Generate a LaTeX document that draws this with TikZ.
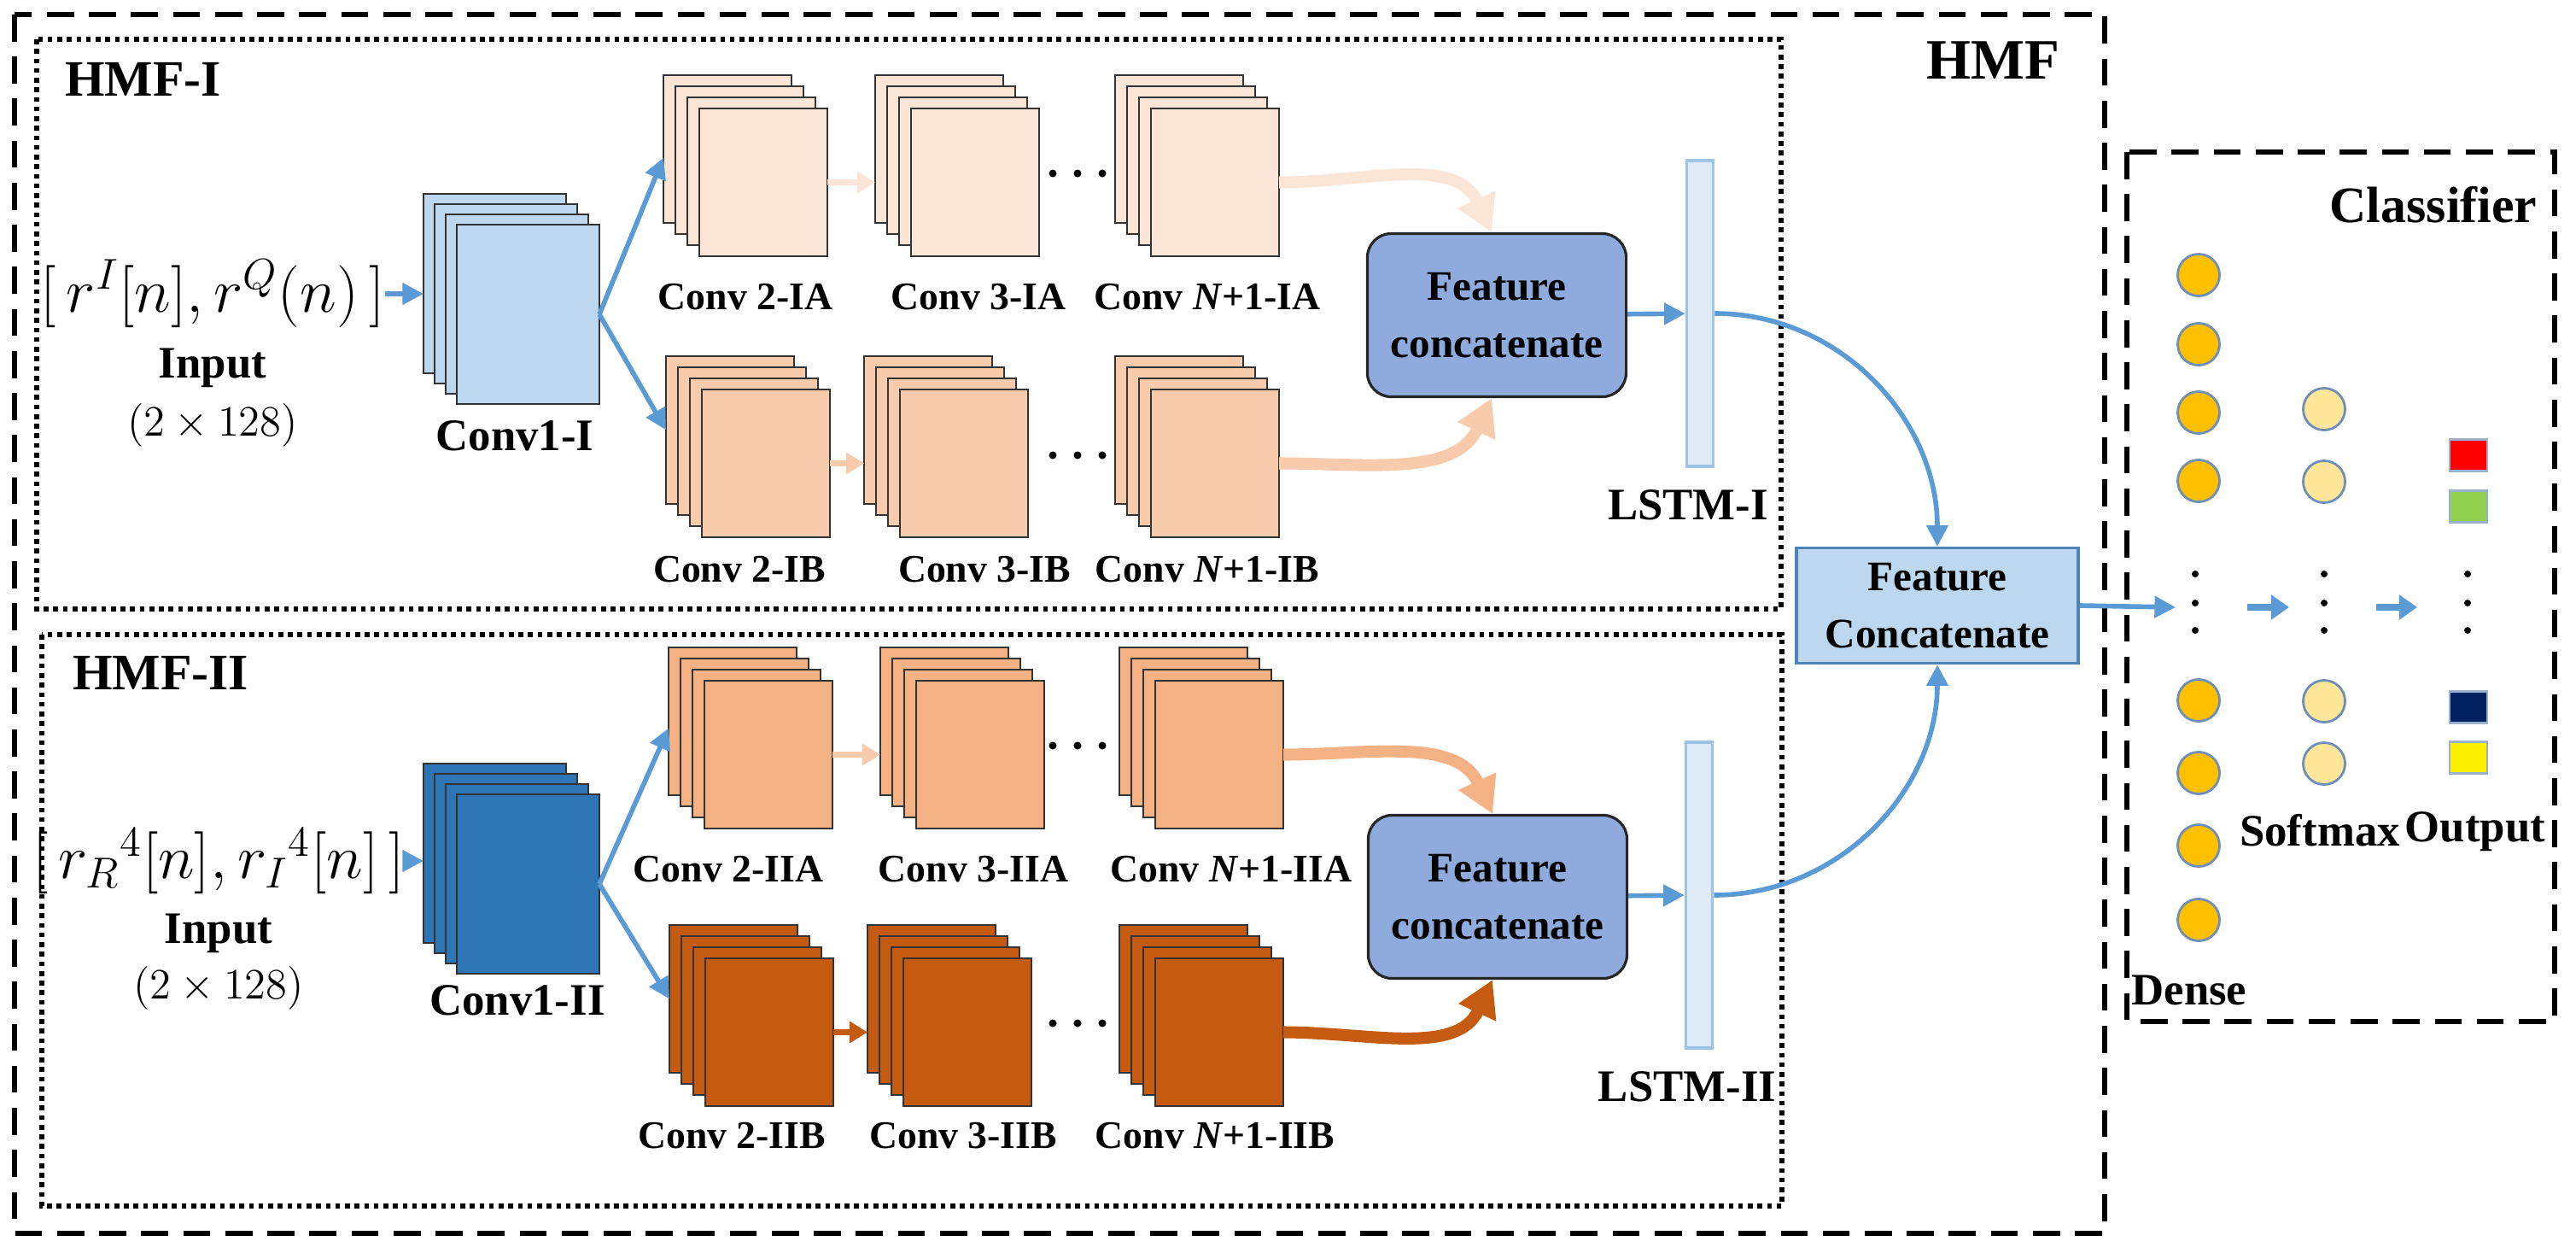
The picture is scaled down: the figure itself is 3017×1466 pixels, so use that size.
\documentclass[tikz,border=0pt]{standalone}
\usepackage{fontspec}
\setmainfont{Liberation Serif}
\usetikzlibrary{arrows.meta,calc}
\definecolor{blueA}{HTML}{5B9BD5}
\definecolor{c1I}{HTML}{BDD7EE}
\definecolor{c1II}{HTML}{2E75B6}
\definecolor{cIA}{HTML}{FBE5D6}
\definecolor{cIB}{HTML}{F8CBAD}
\definecolor{cIIA}{HTML}{F4B183}
\definecolor{cIIB}{HTML}{C55A11}
\definecolor{fcfill}{HTML}{8FAADC}
\definecolor{lstmfill}{HTML}{DEEBF7}
\definecolor{lstmdraw}{HTML}{9DC3E6}
\definecolor{densef}{HTML}{FFC000}
\definecolor{softf}{HTML}{FFE699}
\definecolor{ringc}{HTML}{6F8FB8}
\definecolor{outG}{HTML}{92D050}
\definecolor{outN}{HTML}{002060}
\begin{document}
\begin{tikzpicture}[x=0.01cm,y=-0.01cm,
  sheet/.style={draw=black!80,line width=0.8pt,inner sep=0,outer sep=0,anchor=north west},
  lbl/.style={font=\bfseries\fontsize{13}{15}\selectfont,inner sep=1pt},
  big/.style={font=\bfseries\fontsize{15}{17}\selectfont,inner sep=1pt},
  barrow/.style={draw=blueA,line width=1.6pt,-{Triangle[length=7pt,width=7pt]}},
  thick arr/.style={line width=4pt,-{Triangle[length=12pt,width=13pt]}},
  small arr/.style={line width=2pt,-{Triangle[length=6pt,width=7pt]}},
  fcbox/.style={draw=black!85,fill=fcfill,rounded corners=8pt,line width=0.9pt,minimum width=3.03cm,minimum height=1.91cm,align=center,font=\bfseries\fontsize{14}{19}\selectfont},
  lstm/.style={draw=lstmdraw,fill=lstmfill,line width=1pt,minimum width=0.31cm,minimum height=3.58cm,inner sep=0},
  dense/.style={circle,draw=ringc,fill=densef,minimum size=0.49cm,inner sep=0,line width=0.8pt},
  soft/.style={circle,draw=ringc,fill=softf,minimum size=0.49cm,inner sep=0,line width=0.8pt},
  outsq/.style={draw=ringc!70,minimum width=0.44cm,minimum height=0.37cm,inner sep=0,line width=0.8pt},
  dotp/.style={circle,fill=black,minimum size=0.08cm,inner sep=0}
]
\useasboundingbox (0,0) rectangle (3017,1466);
% stack macro: name, x, y, w, h, dx, dy, colour
\newcommand\fmstack[8]{%
  \foreach \k in {0,1,2,3}{%
    \node[sheet,fill=#8,minimum width=#4*0.01cm,minimum height=#5*0.01cm] (#1-\k) at (#2+\k*#6,#3+\k*#7) {};}}
% frames
\draw[line width=1.6pt,dash pattern=on 9pt off 5pt] (17,17) rectangle (2465,1444);
\draw[line width=1.6pt,dash pattern=on 1.6pt off 1.6pt] (43,46) rectangle (2086,713);
\draw[line width=1.6pt,dash pattern=on 1.6pt off 1.6pt] (49,743) rectangle (2087,1412);
\draw[line width=1.6pt,dash pattern=on 9pt off 5pt] (2491,178) rectangle (2992,1196);
\node[big,anchor=west,font=\bfseries\fontsize{17}{19}\selectfont] (hmfI) at (72,93) {HMF-I};
\node[big,anchor=west,font=\bfseries\fontsize{17}{19}\selectfont] (hmfII) at (81,788) {HMF-II};
\node[font=\bfseries\fontsize{19}{21}\selectfont] (hmf) at (2334,71) {HMF};
\node[font=\bfseries\fontsize{17}{19}\selectfont] (clf) at (2850,240) {Classifier};
% inputs
\node[font=\fontsize{20}{24}\selectfont,inner sep=0] (in1) at (249,344) {$\Big[\,r^{I}[n],r^{Q}(n)\,\Big]$};
\node[big] (in1l) at (249,431) {Input};
\node[font=\fontsize{15}{17}\selectfont] (in1s) at (249,498) {$(2\times128)$};
\node[font=\fontsize{20}{24}\selectfont,inner sep=0] (in2) at (256,1008) {$\Big[\,{r_{R}}^{4}[n],{r_{I}}^{4}[n]\,\Big]$};
\node[big] (in2l) at (256,1093) {Input};
\node[font=\fontsize{15}{17}\selectfont] (in2s) at (256,1157) {$(2\times128)$};
% stacks
\fmstack{cA}{496}{227}{167}{210}{13}{12}{c1I}
\fmstack{cB}{496}{894}{167}{210}{13}{12}{c1II}
\fmstack{a2}{777}{88}{150}{173}{14}{13}{cIA}
\fmstack{a3}{1025}{88}{150}{173}{14}{13}{cIA}
\fmstack{aN}{1306}{88}{150}{173}{14}{13}{cIA}
\fmstack{b2}{780}{417}{150}{173}{14}{13}{cIB}
\fmstack{b3}{1012}{417}{150}{173}{14}{13}{cIB}
\fmstack{bN}{1306}{417}{150}{173}{14}{13}{cIB}
\fmstack{c2}{783}{758}{150}{173}{14}{13}{cIIA}
\fmstack{c3}{1031}{758}{150}{173}{14}{13}{cIIA}
\fmstack{cN}{1311}{758}{150}{173}{14}{13}{cIIA}
\fmstack{d2}{784}{1083}{150}{173}{14}{13}{cIIB}
\fmstack{d3}{1016}{1083}{150}{173}{14}{13}{cIIB}
\fmstack{dN}{1311}{1083}{150}{173}{14}{13}{cIIB}
% labels
\node[big] (cAl) at (603,510) {Conv1-I};
\node[big] (cBl) at (606,1171) {Conv1-II};
\node[lbl] at (873,348) {Conv 2-IA};
\node[lbl] at (1146,348) {Conv 3-IA};
\node[lbl] at (1414,348) {Conv \textit{N}+1-IA};
\node[lbl] at (866,667) {Conv 2-IB};
\node[lbl] at (1153,667) {Conv 3-IB};
\node[lbl] at (1414,667) {Conv \textit{N}+1-IB};
\node[lbl] at (853,1018) {Conv 2-IIA};
\node[lbl] at (1140,1018) {Conv 3-IIA};
\node[lbl] at (1442,1018) {Conv \textit{N}+1-IIA};
\node[lbl] at (857,1330) {Conv 2-IIB};
\node[lbl] at (1128,1330) {Conv 3-IIB};
\node[lbl] at (1423,1330) {Conv \textit{N}+1-IIB};
% dots between stacks
\foreach \yy in {203,533,873,1198}{\foreach \xx in {1233,1262,1291}{\fill (\xx,\yy) circle (4.5);}}
% feature concatenate boxes
\node[fcbox] (fc1) at (1753,369) {Feature\\concatenate};
\node[fcbox] (fc2) at (1754,1050) {Feature\\concatenate};
\node[lstm] (l1) at (1991,367) {};
\node[lstm] (l2) at (1990,1048) {};
\node[big] at (1977,591) {LSTM-I};
\node[big] at (1976,1272) {LSTM-II};
\node[draw=blueA!85!black,fill=c1I,line width=1pt,minimum width=3.3cm,minimum height=1.35cm,align=center,font=\bfseries\fontsize{14}{19}\selectfont] (fcb) at (2269,709) {Feature\\Concatenate};
% blue arrows
\draw[barrow] (in1) -- (cA-0.west |- in1);
\draw[barrow] (in2) -- (cB-0.west |- in2);
\draw[barrow] (cA-3.east) -- ($(a2-0.west)+(0,10)$);
\draw[barrow] (cA-3.east) -- (b2-0.west);
\draw[barrow] (cB-3.east) -- ($(c2-0.west)+(0,8)$);
\draw[barrow] (cB-3.east) -- (d2-0.west);
% inter-stack arrows
\draw[small arr,draw=cIA] (a2-3.east) -- (a3-0.west |- a2-3.east);
\draw[small arr,draw=cIB] (b2-3.east) -- (b3-0.west |- b2-3.east);
\draw[small arr,draw=cIB] (c2-3.east) -- (c3-0.west |- c2-3.east);
\draw[small arr,draw=cIIB] (d2-3.east) -- (d3-0.west |- d2-3.east);
% thick curved arrows
\draw[thick arr,draw=cIA] (aN-3.east) to[out=0,in=115] ($(fc1.north)+(-6,0)$);
\draw[thick arr,draw=cIB] (bN-3.east) to[out=0,in=-115] ($(fc1.south)+(-6,0)$);
\draw[thick arr,draw=cIIA] (cN-3.east) to[out=0,in=115] ($(fc2.north)+(-6,0)$);
\draw[thick arr,draw=cIIB] (dN-3.east) to[out=0,in=-115] ($(fc2.south)+(-6,0)$);
% to LSTM and big FC
\draw[barrow] (fc1) -- (l1);
\draw[barrow] (fc2) -- (l2);
\draw[barrow] (l1.east) to[out=0,in=90] (fcb.north);
\draw[barrow] (l2.east) to[out=0,in=-90] (fcb.south);
% classifier
\foreach \i/\yy in {1/322,2/403,3/483,4/563,5/820,6/905,7/990,8/1077}{\node[dense] (d\i) at (2575,\yy) {};}
\foreach \i/\yy in {1/479,2/564,3/821,4/894}{\node[soft] (s\i) at (2722,\yy) {};}
\node[outsq,fill=red] (o1) at (2891,533) {};
\node[outsq,fill=outG] (o2) at (2891,593) {};
\node[outsq,fill=outN] (o3) at (2891,828) {};
\node[outsq,fill=yellow] (o4) at (2891,887) {};
\foreach \xx/\nm in {2571/dd,2722/sd,2890/od}{\foreach \j/\yy in {1/672,2/706,3/738}{\node[dotp] (\nm\j) at (\xx,\yy) {};}}
\coordinate (e1) at (2548,711);
\coordinate (a1s) at (2632,711); \coordinate (a1e) at (2681,711);
\coordinate (a2s) at (2783,711); \coordinate (a2e) at (2831,711);
\draw[barrow] (fcb.east) -- (e1);
\draw[barrow,line width=2.4pt,-{Triangle[length=6pt,width=8pt]}] (a1s) -- (a1e);
\draw[barrow,line width=2.4pt,-{Triangle[length=6pt,width=8pt]}] (a2s) -- (a2e);
\node[big] at (2717,972) {Softmax};
\node[big] at (2899,974) {Output};
\node[big] at (2564,1159) {Dense};
\end{tikzpicture}
\end{document}
